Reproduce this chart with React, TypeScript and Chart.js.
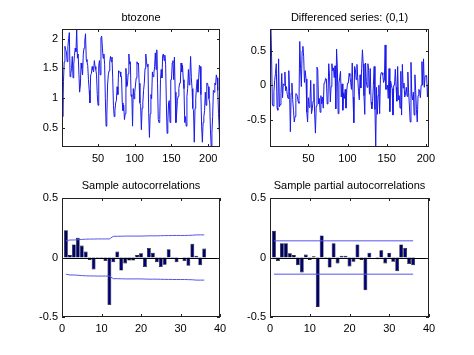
import React, { useEffect, useRef } from "react";
import { Chart, registerables } from "chart.js";

Chart.register(...registerables);

const FONT_FAMILY = '"Liberation Sans", Arial, Helvetica, sans-serif';

const ozoneLog = [
  0.99, 0.69, 1.28, 1.61, 1.87, 1.81, 1.78, 1.61, 1.86, 2.0, 2.1, 1.36,
  1.41, 1.5, 1.7, 1.34, 1.57, 1.72, 1.84, 1.78, 2.16, 1.67, 1.74, 1.74,
  1.1, 1.22, 1.59, 1.5, 1.39, 1.74, 1.84, 1.96, 2.08, 1.65, 1.61, 1.55,
  1.31, 1.13, 0.92, 1.39, 1.41, 1.53, 1.48, 1.44, 1.63, 1.53, 1.48, 1.39,
  1.06, 0.88, 1.55, 1.63, 1.39, 2.01, 2.04, 1.84, 1.67, 1.74, 1.57, 0.99,
  0.53, 0.69, 1.22, 1.39, 1.46, 1.61, 1.7, 1.61, 1.69, 1.34, 0.88, 0.69,
  0.79, 0.92, 0.96, 1.19, 1.06, 1.46, 1.44, 1.44, 1.36, 1.36, 0.92, 0.79,
  0.88, 0.64, 0.74, 1.5, 1.19, 1.22, 1.41, 1.74, 1.57, 1.61, 1.03, 1.06,
  0.53, 1.16, 0.99, 1.1, 1.22, 1.34, 1.61, 1.57, 1.59, 1.25, 0.92, 0.88,
  0.47, 0.83, 0.92, 1.13, 1.25, 1.5, 1.74, 1.61, 1.53, 1.57, 0.74, 0.34,
  0.74, 1.06, 0.99, 1.44, 1.36, 1.41, 1.53, 1.76, 1.48, 1.81, 1.25, 0.64,
  0.59, 0.64, 1.31, 1.48, 1.34, 1.72, 1.74, 1.63, 1.72, 1.57, 0.92, 0.41,
  0.59, 0.92, 0.96, 0.59, 1.31, 1.31, 1.59, 1.63, 1.31, 1.69, 1.1, 0.59,
  0.74, 0.96, 1.03, 1.16, 1.25, 1.25, 1.59, 1.44, 1.55, 1.31, 1.16, 0.59,
  0.69, 0.53, 1.03, 1.16, 1.48, 1.22, 1.36, 1.7, 1.34, 1.16, 0.83, 0.79,
  0.26, 0.83, 0.99, 1.19, 1.31, 1.1, 1.34, 1.55, 1.53, 1.06, 0.53, 0.26,
  0.59, 0.69, 0.79, 1.1, 0.88, 1.25, 1.25, 1.19, 0.99, 0.92, 0.47, 0.18,
  0.41, 0.69, 1.13, 1.1, 1.25, 1.22, 1.39, 1.34, 1.13, 0.74, 0.47, 0.26,
];

// seasonally differenced series, 204 observations
const seasonalDiff = [
  0.42, 0.81, 0.42, -0.27, -0.3, -0.09, 0.07, 0.17, 0.31, -0.33, -0.36, 0.38,
  -0.31, -0.28, -0.12, 0.17, -0.18, 0.02, 0.0, 0.19, -0.08, -0.02, -0.13, -0.19,
  0.21, -0.09, -0.67, -0.12, 0.03, -0.21, -0.36, -0.53, -0.45, -0.12, -0.13, -0.16,
  -0.24, -0.26, 0.63, 0.24, -0.02, 0.49, 0.56, 0.41, 0.04, 0.21, 0.09, -0.39,
  -0.53, -0.18, -0.32, -0.24, 0.07, -0.41, -0.34, -0.23, 0.02, -0.41, -0.69, -0.3,
  0.26, 0.22, -0.27, -0.19, -0.39, -0.15, -0.27, -0.17, -0.33, 0.03, 0.04, 0.1,
  0.09, -0.27, -0.21, 0.31, 0.13, -0.24, -0.02, 0.31, 0.21, 0.25, 0.11, 0.28,
  -0.34, 0.52, 0.25, -0.41, 0.03, 0.11, 0.2, -0.17, 0.02, -0.36, -0.11, -0.19,
  -0.06, -0.33, -0.08, 0.03, 0.03, 0.17, 0.13, 0.04, -0.06, 0.32, -0.17, -0.54,
  0.27, 0.23, 0.08, 0.3, 0.11, -0.09, -0.21, 0.15, -0.04, 0.24, 0.51, 0.31,
  -0.15, -0.42, 0.32, 0.05, -0.03, 0.31, 0.21, -0.13, 0.24, -0.24, -0.34, -0.24,
  0.0, 0.27, -0.35, -0.89, -0.03, -0.42, -0.15, 0.0, -0.41, 0.12, 0.18, 0.18,
  0.15, 0.04, 0.07, 0.58, -0.06, -0.05, 0.0, -0.19, 0.24, -0.38, 0.06, 0.0,
  -0.05, -0.43, 0.0, 0.0, 0.23, -0.03, -0.23, 0.27, -0.21, -0.15, -0.33, 0.2,
  -0.43, 0.3, -0.04, 0.03, -0.17, -0.13, -0.03, -0.16, 0.19, -0.1, -0.3, -0.53,
  0.33, -0.14, -0.21, -0.1, -0.43, 0.15, -0.08, -0.35, -0.53, -0.15, -0.06, -0.08,
  -0.18, 0.0, 0.34, 0.0, 0.38, -0.03, 0.13, 0.14, 0.14, -0.17, 0.0, 0.08,
];

const corrLags = [
  1, 2, 3, 4, 5, 6, 7, 8, 9, 10, 11, 12, 13, 14, 15, 16, 17, 18,
  19, 20, 21, 22, 23, 24, 25, 26, 27, 28, 29, 30, 31, 32, 33, 34, 35, 36,
];

const acfValues = [
  0.23, 0.02, 0.11, 0.165, 0.1, 0.05, -0.02, -0.1, -0.005, -0.01, -0.03, -0.4,
  -0.04, 0.05, -0.11, -0.05, -0.025, -0.025, 0.02, 0.035, -0.08, 0.08, 0.04, -0.04,
  -0.08, -0.06, 0.07, -0.01, -0.04, 0.0, -0.03, -0.07, 0.115, 0.015, -0.065, 0.075,
];

const acfUpper = [
  0.14, 0.147, 0.147, 0.149, 0.152, 0.154, 0.155, 0.155, 0.156, 0.156, 0.156, 0.156,
  0.178, 0.178, 0.179, 0.18, 0.18, 0.18, 0.18, 0.18, 0.181, 0.182, 0.182, 0.182,
  0.183, 0.184, 0.184, 0.185, 0.185, 0.185, 0.185, 0.186, 0.187, 0.19, 0.19, 0.19,
];
const acfLower = [
  -0.14, -0.147, -0.147, -0.149, -0.152, -0.154, -0.155, -0.155, -0.156, -0.156, -0.156, -0.156,
  -0.178, -0.178, -0.179, -0.18, -0.18, -0.18, -0.18, -0.18, -0.181, -0.182, -0.182, -0.182,
  -0.183, -0.184, -0.184, -0.185, -0.185, -0.185, -0.185, -0.186, -0.187, -0.19, -0.19, -0.19,
];

const pacfValues = [
  0.225, -0.03, 0.12, 0.12, 0.035, 0.02, -0.065, -0.125, 0.025, -0.02, 0.01, -0.415,
  0.185, 0.005, -0.085, 0.12, -0.05, 0.015, 0.015, -0.075, -0.035, 0.11, -0.02, -0.275,
  0.04, 0.0, -0.015, 0.06, -0.05, 0.04, -0.035, -0.115, 0.11, 0.08, -0.055, -0.065,
];
const pacfBoundLags = [1, 36];
const pacfUpper = [0.14, 0.14];
const pacfLower = [-0.14, -0.14];

const seriesXTicks = [50, 100, 150, 200];
const ozoneYTicks = [0.5, 1, 1.5, 2];
const diffYTicks = [-0.5, 0, 0.5];
const corrXTicks = [0, 10, 20, 30, 40];
const corrYTicks = [-0.5, 0, 0.5];

const LINE_BLUE = "rgb(25,25,235)";
const BOUND_BLUE = "rgb(85,85,235)";
const BAR_FILL = "rgb(0,0,110)";

const matlabAxes = {
  id: "matlabAxes",
  afterDatasetsDraw(chart: any, _args: any, opts: any) {
    const { ctx, chartArea: a, scales } = chart;
    const xs = scales.x;
    const ys = scales.y;
    ctx.save();
    if (opts && opts.zeroLine) {
      const y0 = Math.round(ys.getPixelForValue(0)) + 0.5;
      ctx.strokeStyle = "#000";
      ctx.lineWidth = 1;
      ctx.beginPath();
      ctx.moveTo(a.left, y0);
      ctx.lineTo(a.right, y0);
      ctx.stroke();
    }
    ctx.strokeStyle = "#222";
    ctx.lineWidth = 1;
    ctx.strokeRect(a.left + 0.5, a.top + 0.5, a.right - a.left - 1, a.bottom - a.top - 1);
    const tl = 3;
    ctx.beginPath();
    for (const t of xs.ticks) {
      const x = Math.round(xs.getPixelForValue(t.value)) + 0.5;
      ctx.moveTo(x, a.bottom);
      ctx.lineTo(x, a.bottom - tl);
      ctx.moveTo(x, a.top);
      ctx.lineTo(x, a.top + tl);
    }
    for (const t of ys.ticks) {
      const y = Math.round(ys.getPixelForValue(t.value)) + 0.5;
      ctx.moveTo(a.left, y);
      ctx.lineTo(a.left + tl, y);
      ctx.moveTo(a.right, y);
      ctx.lineTo(a.right - tl, y);
    }
    ctx.stroke();
    ctx.restore();
  },
};

function scaleOpts(min: number, max: number, ticks: number[], size: number, isX: boolean) {
  return {
    type: "linear",
    min,
    max,
    bounds: "data",
    offset: false,
    grid: { display: false, drawTicks: false },
    border: { display: false },
    ticks: {
      autoSkip: false,
      maxRotation: 0,
      minRotation: 0,
      padding: isX ? 5 : 4,
      color: "#000",
      font: { family: FONT_FAMILY, size: 11 },
      callback: (v: any) => String(v),
    },
    afterBuildTicks: (s: any) => {
      s.ticks = ticks.map((v) => ({ value: v }));
    },
    afterFit: (s: any) => {
      if (isX) s.height = size;
      else s.width = size;
    },
  };
}

interface Geo {
  yW: number;
  rightPad: number;
  xH: number;
  titleTop: number;
  titleBottom: number;
}

function baseOptions(
  title: string,
  g: Geo,
  xr: [number, number],
  xTicks: number[],
  yr: [number, number],
  yTicks: number[],
  zeroLine: boolean
) {
  return {
    responsive: false,
    animation: false,
    devicePixelRatio: 1,
    events: [],
    layout: { padding: { left: 0, right: g.rightPad, top: 0, bottom: 0 } },
    plugins: {
      legend: { display: false },
      tooltip: { enabled: false },
      title: {
        display: true,
        text: title,
        fullSize: false,
        color: "#000",
        font: { family: FONT_FAMILY, size: 11, weight: "normal", lineHeight: 1.2 },
        padding: { top: g.titleTop, bottom: g.titleBottom },
      },
      matlabAxes: { zeroLine },
    },
    scales: {
      x: scaleOpts(xr[0], xr[1], xTicks, g.xH, true),
      y: scaleOpts(yr[0], yr[1], yTicks, g.yW, false),
    },
  };
}

const geoTL: Geo = { yW: 62, rightPad: 17, xH: 28, titleTop: 11.4, titleBottom: 4.4 };
const geoTR: Geo = { yW: 33, rightPad: 45, xH: 28, titleTop: 11.4, titleBottom: 4.4 };
const geoBL: Geo = { yW: 62, rightPad: 17, xH: 38, titleTop: 4.4, titleBottom: 5.4 };
const geoBR: Geo = { yW: 33, rightPad: 45, xH: 38, titleTop: 4.4, titleBottom: 5.4 };

function lineConfig(title: string, values: number[], g: Geo, yTicks: number[]) {
  const pts = values.map((v, i) => ({ x: i + 1, y: v }));
  return {
    type: "line",
    data: {
      datasets: [
        {
          data: pts,
          borderColor: LINE_BLUE,
          borderWidth: 1,
          pointRadius: 0,
          tension: 0,
          fill: false,
          borderJoinStyle: "round",
        },
      ],
    },
    options: baseOptions(
      title,
      g,
      [1, values.length],
      seriesXTicks,
      [Math.min(...values), Math.max(...values)],
      yTicks,
      false
    ),
    plugins: [matlabAxes],
  };
}

function corrConfig(
  title: string,
  values: number[],
  boundLags: number[],
  upper: number[],
  lower: number[],
  g: Geo
) {
  return {
    type: "bar",
    data: {
      datasets: [
        {
          type: "line",
          data: boundLags.map((l, i) => ({ x: l, y: upper[i] })),
          borderColor: BOUND_BLUE,
          borderWidth: 1,
          pointRadius: 0,
          tension: 0,
          fill: false,
        },
        {
          type: "line",
          data: boundLags.map((l, i) => ({ x: l, y: lower[i] })),
          borderColor: BOUND_BLUE,
          borderWidth: 1,
          pointRadius: 0,
          tension: 0,
          fill: false,
        },
        {
          type: "bar",
          data: corrLags.map((l, i) => ({ x: l, y: values[i] })),
          backgroundColor: BAR_FILL,
          borderColor: "#000",
          borderWidth: 0.6,
          barPercentage: 1,
          categoryPercentage: 0.97,
        },
      ],
    },
    options: baseOptions(title, g, [0, 40], corrXTicks, [-0.5, 0.5], corrYTicks, true),
    plugins: [matlabAxes],
  };
}

function Panel(props: { left: number; top: number; width: number; height: number; make: () => any }) {
  const ref = useRef<HTMLCanvasElement>(null);
  useEffect(() => {
    const chart = new Chart(ref.current as HTMLCanvasElement, props.make());
    return () => chart.destroy();
  }, []);
  return (
    <div style={{ position: "absolute", left: props.left, top: props.top, width: props.width, height: props.height }}>
      <canvas
        ref={ref}
        width={props.width}
        height={props.height}
        style={{ display: "block", width: props.width, height: props.height }}
      />
    </div>
  );
}

export default function App() {
  return (
    <div style={{ position: "absolute", left: 0, top: 0, width: 474, height: 355, background: "#fff", overflow: "hidden" }}>
      <Panel left={0} top={0} width={237} height={175} make={() => lineConfig("btozone", ozoneLog, geoTL, ozoneYTicks)} />
      <Panel
        left={237}
        top={0}
        width={237}
        height={175}
        make={() => lineConfig("Differenced series: (0,1)", seasonalDiff, geoTR, diffYTicks)}
      />
      <Panel
        left={0}
        top={175}
        width={237}
        height={180}
        make={() => corrConfig("Sample autocorrelations", acfValues, corrLags, acfUpper, acfLower, geoBL)}
      />
      <Panel
        left={237}
        top={175}
        width={237}
        height={180}
        make={() =>
          corrConfig("Sample partial autocorrelations", pacfValues, pacfBoundLags, pacfUpper, pacfLower, geoBR)
        }
      />
    </div>
  );
}
